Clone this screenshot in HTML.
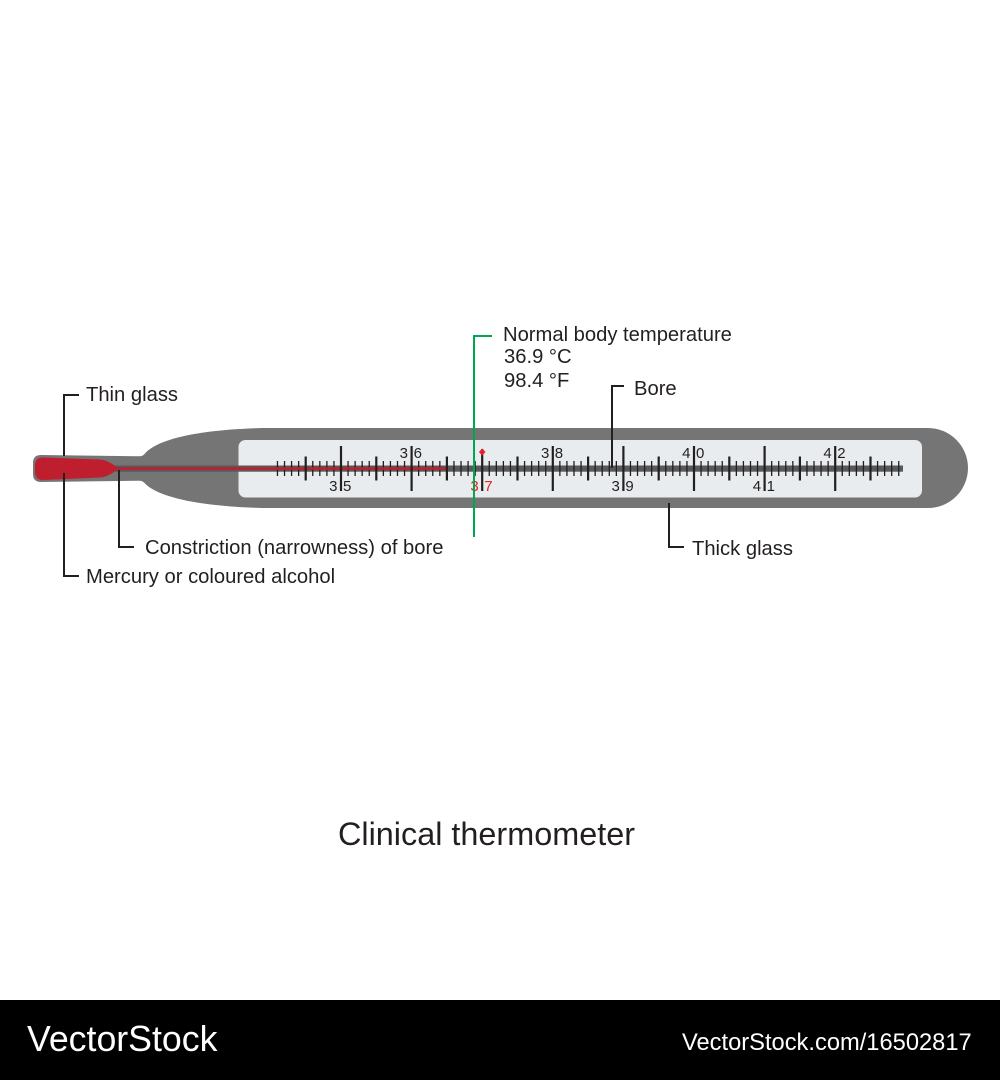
<!DOCTYPE html>
<html>
<head>
<meta charset="utf-8">
<style>
html,body{margin:0;padding:0;background:#fff;}
svg{display:block;}
text{font-family:"Liberation Sans",Arial,sans-serif;}
</style>
</head>
<body>
<svg width="1000" height="1080" viewBox="0 0 1000 1080" xmlns="http://www.w3.org/2000/svg">
<rect x="0" y="0" width="1000" height="1080" fill="#ffffff"/>

<!-- thermometer body -->
<path d="M41,455 L139,456.3 Q143,456.3 145,453.5 C156,441 190,430 262,428 L928,428 A40,40 0 0 1 928,508 L262,508 C190,506 156,495 145,483.5 Q143,480.7 139,480.7 L41,482 Q33,482 33,474 L33,463 Q33,455 41,455 Z" fill="#757575"/>
<!-- inner panel -->
<rect x="238.5" y="440" width="683.5" height="57.5" rx="7" ry="7" fill="#e9ecee"/>
<!-- bore bar -->
<rect x="115" y="465.5" width="788" height="6.2" fill="#58595b"/>
<!-- mercury bulb -->
<path d="M43,457.5 L100,459.5 Q108,460 117,467.3 L117,469.7 Q108,477 100,477.5 L43,480 Q35,480 35,472 L35,465.5 Q35,457.5 43,457.5 Z" fill="#be1e2d"/>

<!-- minor ticks (34.1 .. 42.9) via dash pattern -->
<line x1="276.81" y1="468.5" x2="899.4" y2="468.5" stroke="#231f20" stroke-width="15" stroke-dasharray="1.3 5.76"/>
<!-- mercury thread -->
<rect x="115" y="467.3" width="332" height="2.5" fill="#be1e2d"/>
<!-- half-degree ticks -->
<path fill="none" stroke="#231f20" stroke-width="2.2" d="M305.7,456.5v24M376.3,456.5v24M446.9,456.5v24M517.5,456.5v24M588.1,456.5v24M658.7,456.5v24M729.3,456.5v24M799.9,456.5v24M870.5,456.5v24"/>
<!-- major ticks -->
<path fill="none" stroke="#231f20" stroke-width="2.2" d="M341,446v45M411.6,446v45M482.2,449v42M552.8,446v45M623.4,446v45M694,446v45M764.6,446v45M835.2,446v45"/>
<!-- red marker at 37 -->
<path d="M482.2,448.5 L485.5,452 L482.2,455.5 L478.9,452 Z" fill="#e8202a"/>

<!-- scale digits -->
<g font-size="15" fill="#231f20">
  <text x="337.5" y="491" text-anchor="end">3</text><text x="343" y="491">5</text>
  <text x="408" y="458" text-anchor="end">3</text><text x="413.6" y="458">6</text>
  <text x="549.3" y="458" text-anchor="end">3</text><text x="554.8" y="458">8</text>
  <text x="619.9" y="491" text-anchor="end">3</text><text x="625.4" y="491">9</text>
  <text x="690.5" y="458" text-anchor="end">4</text><text x="696" y="458">0</text>
  <text x="761.1" y="491" text-anchor="end">4</text><text x="766.6" y="491">1</text>
  <text x="831.7" y="458" text-anchor="end">4</text><text x="837.2" y="458">2</text>
</g>
<g font-size="15" fill="#e8202a">
  <text x="478.7" y="491" text-anchor="end">3</text><text x="484.2" y="491">7</text>
</g>

<!-- green normal temperature line -->
<path d="M474,537 V336 H492" fill="none" stroke="#00a651" stroke-width="2"/>

<!-- black callout lines -->
<g fill="none" stroke="#231f20" stroke-width="2">
  <path d="M79,395 H64 V456"/>
  <path d="M64,473 V576 H79"/>
  <path d="M119,470 V547 H134"/>
  <path d="M612,468 V386 H624"/>
  <path d="M669,503 V547 H684"/>
</g>

<!-- labels -->
<g font-size="20.2" fill="#231f20">
  <text x="86" y="401">Thin glass</text>
  <text x="86" y="583">Mercury or coloured alcohol</text>
  <text x="145" y="554">Constriction (narrowness) of bore</text>
  <text x="503" y="341">Normal body temperature</text>
  <text x="504" y="363">36.9 °C</text>
  <text x="504" y="387">98.4 °F</text>
  <text x="634" y="395">Bore</text>
  <text x="692" y="555">Thick glass</text>
</g>

<text x="338" y="845" font-size="32.4" fill="#231f20">Clinical thermometer</text>

<!-- footer band -->
<rect x="0" y="1000" width="1000" height="80" fill="#000000"/>
<text x="27" y="1051" font-size="35.7" fill="#ffffff">VectorStock</text>
<text x="682" y="1050" font-size="23.7" fill="#ffffff">VectorStock.com/16502817</text>
</svg>
</body>
</html>
